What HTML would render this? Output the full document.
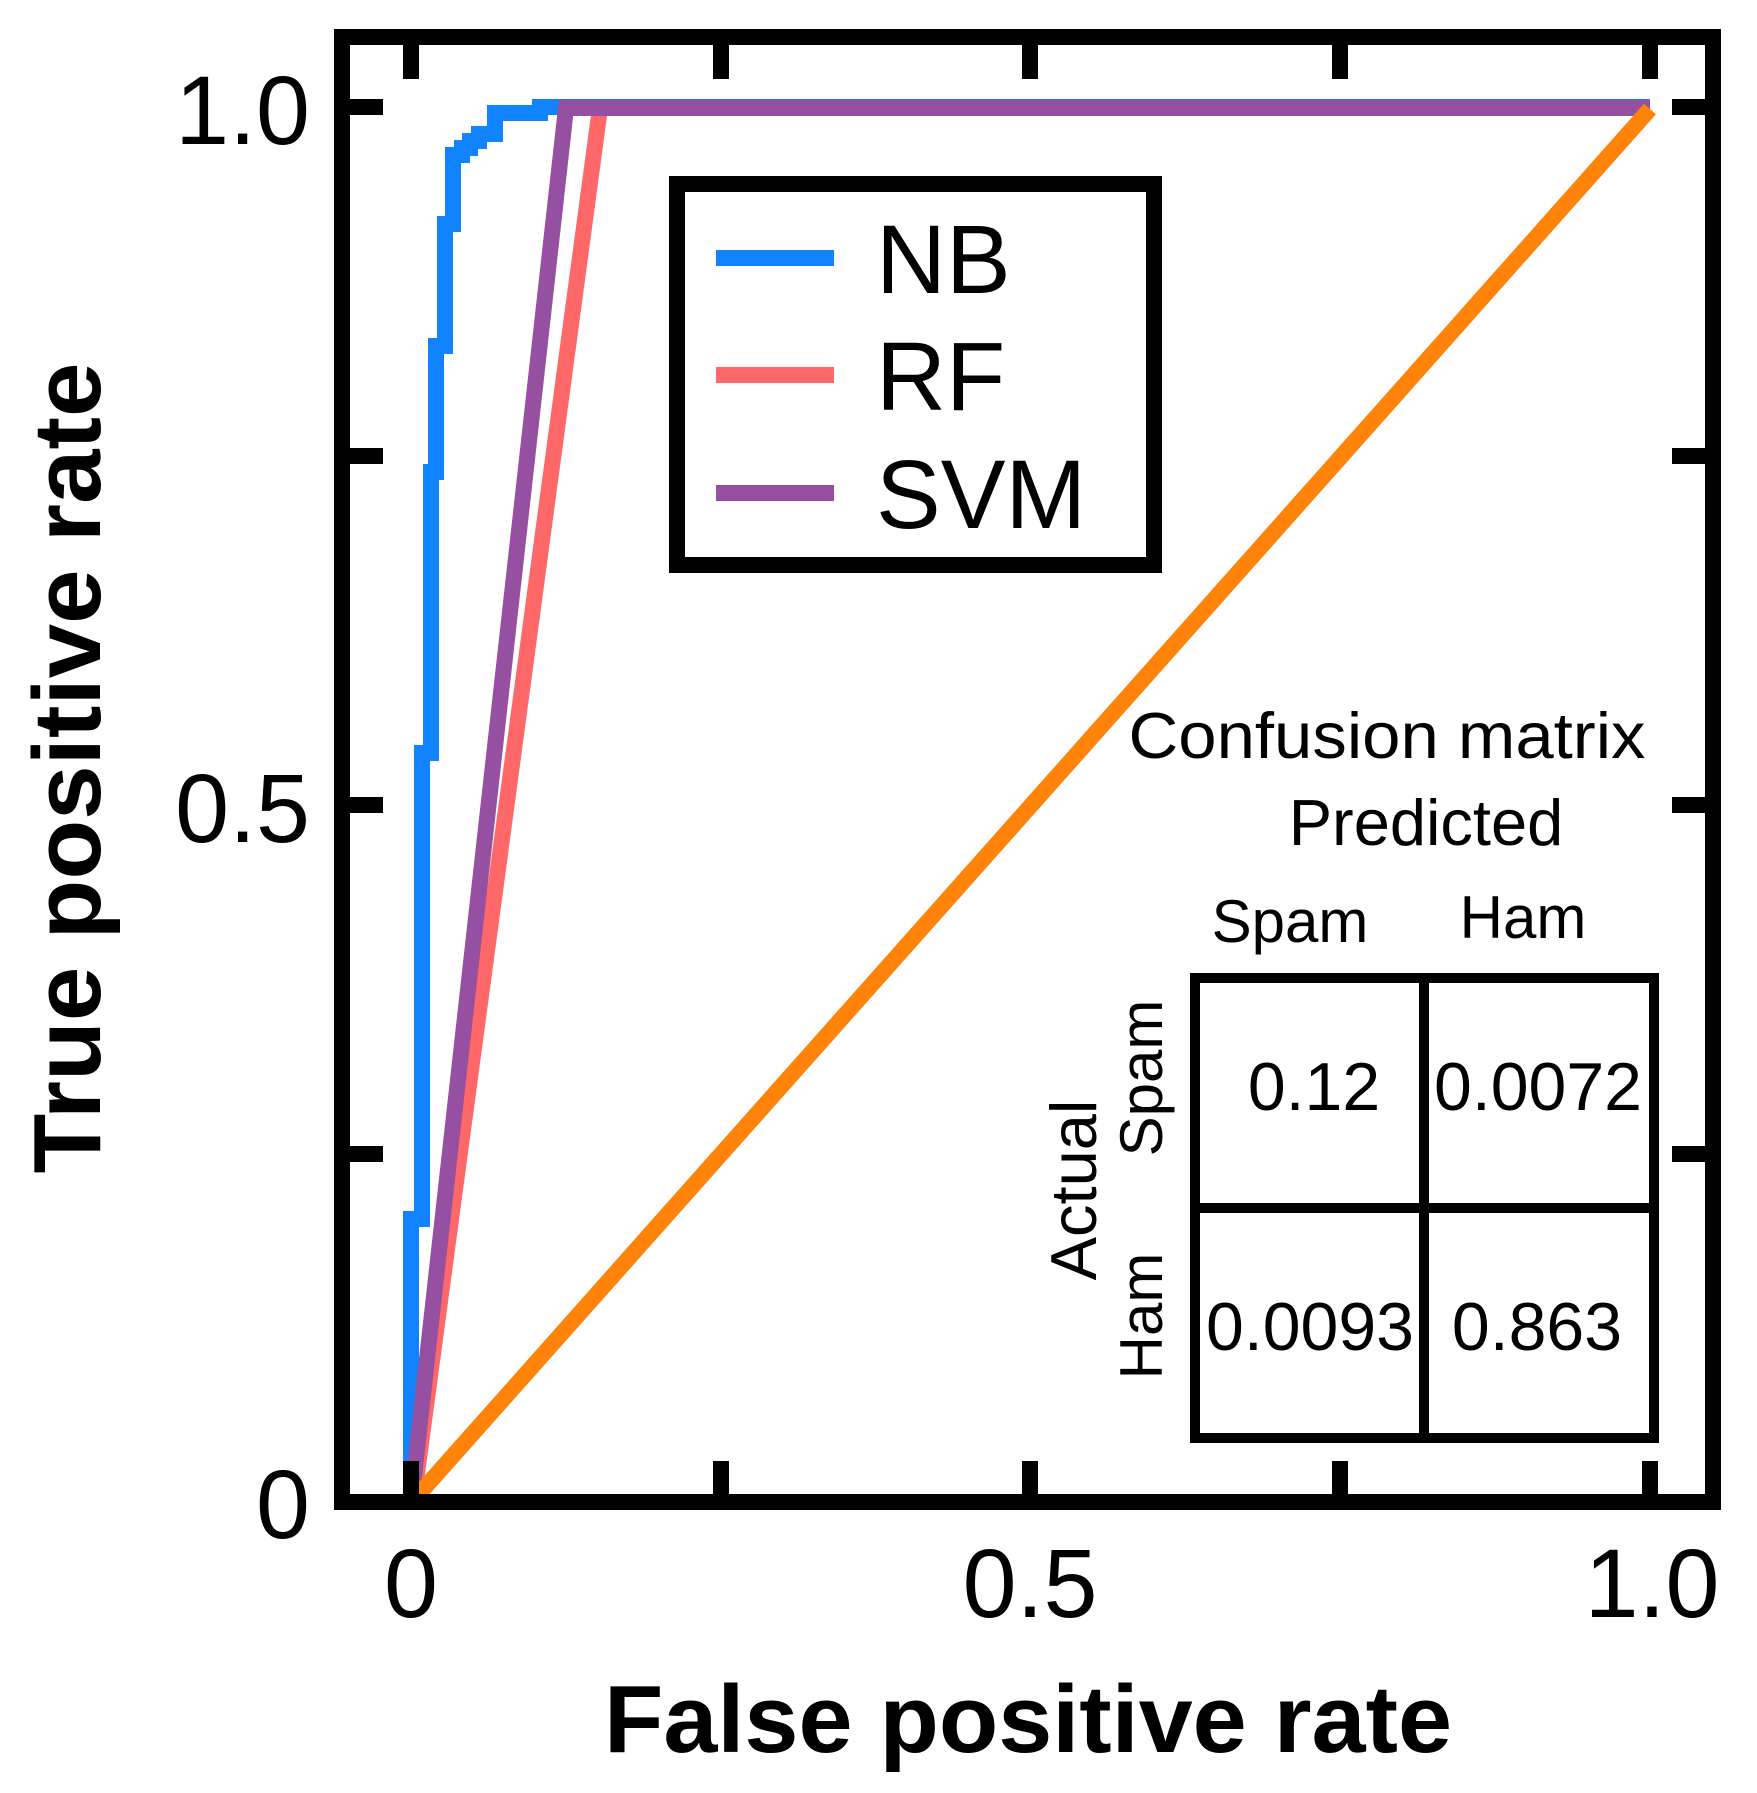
<!DOCTYPE html>
<html><head><meta charset="utf-8"><style>
html,body{margin:0;padding:0;background:#fff;}
svg{display:block;}
text{font-family:"Liberation Sans",Arial,sans-serif;fill:#000;}
</style></head><body>
<svg width="1757" height="1793" viewBox="0 0 1757 1793" xmlns="http://www.w3.org/2000/svg">
<rect width="1757" height="1793" fill="#fff"/>
<g fill="none" stroke-width="16" stroke-linejoin="miter">
<polyline stroke="#1283ff" points="411,1503 411,1219 422,1219 422,753 431,753 431,472 436,472 436,346 445,346 445,224 453,224 453,155 462,155 462,148 470,148 470,141 479,141 479,134 495,134 495,113 540,113 540,107 1650,107"/>
<polyline stroke="#ff6868" points="413,1503 600,108 1650,108"/>
<polyline stroke="#9650a1" points="411,1503 566,108 1650,108"/>
<line stroke="#ff8209" x1="411" y1="1503" x2="1650" y2="109"/>
</g>
<g stroke="#000" stroke-width="16" fill="none">
<rect x="342" y="37" width="1371" height="1465"/>
<path d="M411 45V79M721 45V79M1030 45V79M1340 45V79M1650 45V79
M411 1494V1461M721 1494V1461M1030 1494V1461M1340 1494V1461M1650 1494V1461
M350 107H383M350 456H383M350 805H383M350 1154H383
M1705 107H1672M1705 456H1672M1705 805H1672M1705 1154H1672"/>
</g>
<g font-size="97">
<text x="310" y="144" text-anchor="end">1.0</text>
<text x="310" y="842" text-anchor="end">0.5</text>
<text x="310" y="1538" text-anchor="end">0</text>
<text x="411" y="1617" text-anchor="middle">0</text>
<text x="1030" y="1617" text-anchor="middle">0.5</text>
<text x="1652" y="1617" text-anchor="middle">1.0</text>
</g>
<text x="1028" y="1752" font-size="96" font-weight="bold" text-anchor="middle" textLength="848" lengthAdjust="spacingAndGlyphs">False positive rate</text>
<text transform="translate(100,768) rotate(-90)" font-size="96" font-weight="bold" text-anchor="middle" textLength="811" lengthAdjust="spacingAndGlyphs">True positive rate</text>
<!-- legend -->
<rect x="677" y="184" width="477" height="381" fill="#fff" stroke="#000" stroke-width="16"/>
<g stroke-width="16">
<line x1="716" y1="258" x2="834" y2="258" stroke="#1283ff"/>
<line x1="716" y1="375" x2="834" y2="375" stroke="#ff6868"/>
<line x1="716" y1="493" x2="834" y2="493" stroke="#9650a1"/>
</g>
<g font-size="97">
<text x="876" y="293">NB</text>
<text x="876" y="410">RF</text>
<text x="876" y="528">SVM</text>
</g>
<!-- confusion matrix -->
<text x="1387" y="758" font-size="65" text-anchor="middle" textLength="517" lengthAdjust="spacingAndGlyphs">Confusion matrix</text>
<text x="1426" y="845" font-size="65" text-anchor="middle">Predicted</text>
<text x="1290" y="942" font-size="60" text-anchor="middle">Spam</text>
<text x="1523" y="938" font-size="60" text-anchor="middle">Ham</text>
<text transform="translate(1096,1190) rotate(-90)" font-size="65" text-anchor="middle">Actual</text>
<text transform="translate(1162,1078) rotate(-90)" font-size="60" text-anchor="middle">Spam</text>
<text transform="translate(1162,1316) rotate(-90)" font-size="60" text-anchor="middle">Ham</text>
<g stroke="#000" stroke-width="10" fill="none">
<rect x="1195" y="978" width="459" height="460"/>
<path d="M1424 978V1438M1195 1208H1654"/>
</g>
<g font-size="68" text-anchor="middle">
<text x="1314" y="1110">0.12</text>
<text x="1538" y="1110">0.0072</text>
<text x="1310" y="1350">0.0093</text>
<text x="1537" y="1350">0.863</text>
</g>
</svg>
</body></html>
